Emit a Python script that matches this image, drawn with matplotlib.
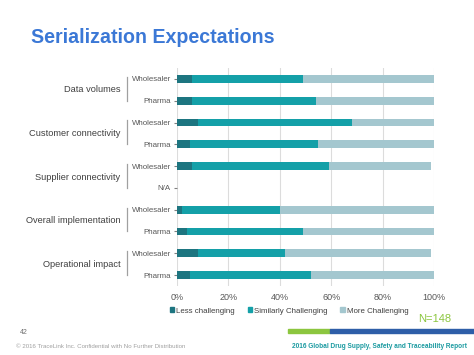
import matplotlib.pyplot as plt
import matplotlib.transforms as mtransforms
from matplotlib.patches import Patch, Rectangle

plt.rcParams['font.family'] = ['Liberation Sans', 'DejaVu Sans']

# Данные (в процентах)
groups = ['Data volumes', 'Customer connectivity', 'Supplier connectivity',
          'Overall implementation', 'Operational impact']
rows = ['Wholesaler', 'Pharma', 'Wholesaler', 'Pharma', 'Wholesaler', 'N/A',
        'Wholesaler', 'Pharma', 'Wholesaler', 'Pharma']
less = [6, 6, 8, 5, 6, 0, 2, 4, 8, 5]
similar = [43, 48, 60, 50, 53, 0, 38, 45, 34, 47]
more = [51, 46, 32, 45, 40, 0, 60, 51, 57, 48]
series_names = ['Less challenging', 'Similarly Challenging', 'More Challenging']
colors = ['#1d7580', '#14a0a8', '#a4c7cf']
x_ticks = [0, 20, 40, 60, 80, 100]

fig = plt.figure(figsize=(4.74, 3.55), dpi=100)
ax = fig.add_axes([0.3734, 0.1944, 0.5422, 0.614])

# Составные горизонтальные столбцы
ypos = list(range(len(rows)))
left = [0] * len(rows)
for vals, col in zip([less, similar, more], colors):
    ax.barh(ypos, vals, left=left, height=0.36, color=col, zorder=3)
    left = [a + b for a, b in zip(left, vals)]

ax.set_xlim(0, 100)
ax.set_ylim(9.5, -0.5)
ax.set_xticks(x_ticks)
ax.set_xticklabels([f'{v}%' for v in x_ticks], fontsize=6.5, color='#595959')
ax.set_yticks(ypos)
ax.set_yticklabels(rows, fontsize=5.7, color='#595959')
ax.tick_params(axis='x', length=0, pad=5)
ax.tick_params(axis='y', length=2, color='#808080', pad=2.5)
ax.grid(axis='x', color='#dcdcdc', linewidth=0.8, zorder=0)
for s in ax.spines.values():
    s.set_visible(False)

# Названия групп и скобки
trans = mtransforms.blended_transform_factory(fig.transFigure, ax.transData)
for i, g in enumerate(groups):
    ax.text(0.254, 2 * i + 0.5, g, transform=trans, ha='right', va='center',
            fontsize=6.7, color='#404040')
    ax.plot([0.268, 0.268], [2 * i - 0.1, 2 * i + 1.0], transform=trans,
            color='#a0a0a0', linewidth=0.9, clip_on=False)

# Легенда
handles = [Patch(color=c, label=n) for c, n in zip(colors, series_names)]
fig.legend(handles=handles, loc='center', bbox_to_anchor=(0.61, 0.124), ncol=3,
           frameon=False, fontsize=5.7, handlelength=0.55, handleheight=0.55,
           handletextpad=0.3, columnspacing=1.6, labelcolor='#404040')

# Заголовок и подписи
fig.text(0.065, 0.893, 'Serialization Expectations', fontsize=14.1,
         fontweight='bold', color='#3b78d6', va='center')
fig.text(0.882, 0.102, 'N=148', fontsize=8, color='#8cc63f', ha='left', va='center')
fig.text(0.042, 0.062, '42', fontsize=5, color='#707070', va='center')
fig.text(0.034, 0.025, '\u00a9 2016 TraceLink Inc. Confidential with No Further Distribution',
         fontsize=4.4, color='#a0a0a0', va='center')
fig.text(0.615, 0.025, '2016 Global Drug Supply, Safety and Traceability Report',
         fontsize=4.7, fontweight='bold', color='#1a9aa0', va='center')
fig.patches.append(Rectangle((0.608, 0.062), 0.089, 0.012, transform=fig.transFigure,
                             color='#8cc63f', zorder=1))
fig.patches.append(Rectangle((0.697, 0.062), 0.303, 0.012, transform=fig.transFigure,
                             color='#2e5ea8', zorder=1))

fig.savefig('out.png', dpi=100)
